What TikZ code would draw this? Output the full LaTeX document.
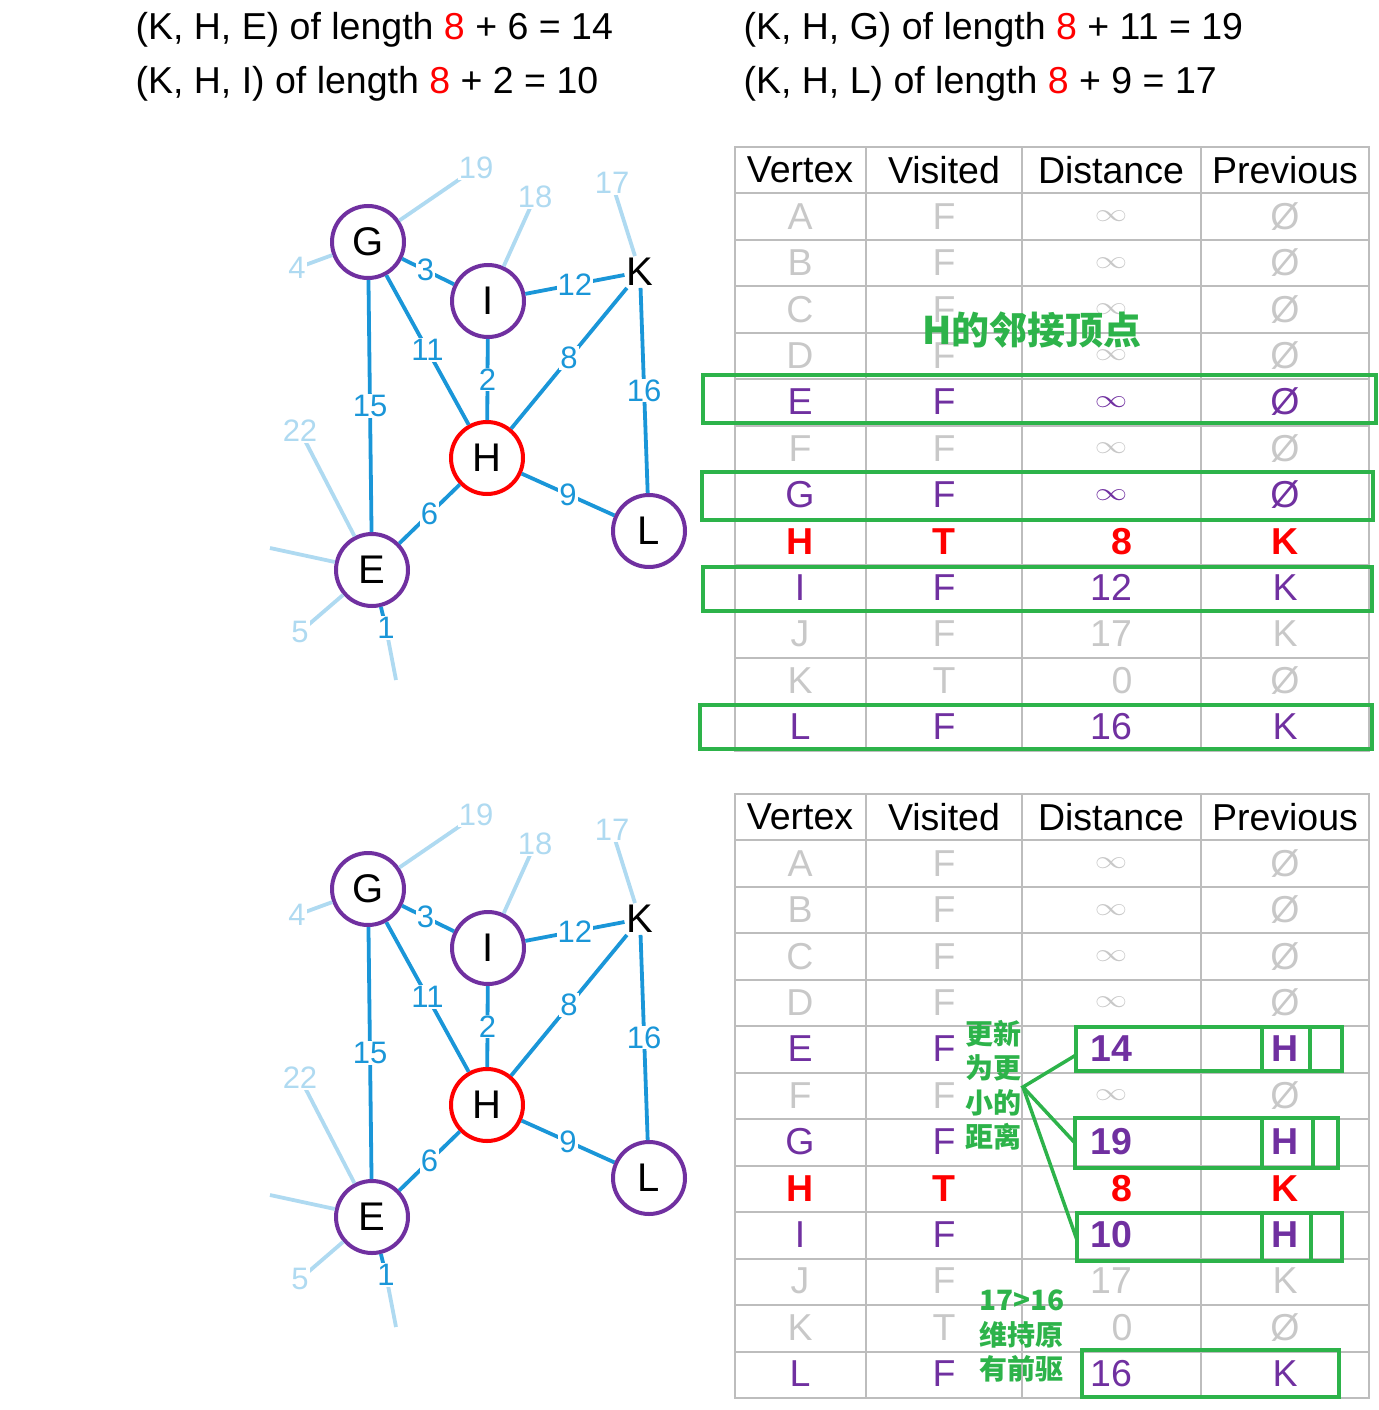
\documentclass[tikz,border=0pt]{standalone}
\usepackage{fontspec}
\setmainfont{Liberation Sans}
\newfontfamily\cjk{Noto Sans CJK SC}
\definecolor{eb}{HTML}{1A96D8}
\definecolor{pu}{HTML}{7030A0}
\definecolor{gr}{HTML}{2DB34A}
\definecolor{lg}{HTML}{C8C8C8}
\definecolor{gl}{HTML}{BDBDBD}
\newcommand{\inft}{\scalebox{1.3}[1]{$\infty$}}
\begin{document}
\begin{tikzpicture}[x=1pt,y=-1pt,
  hd/.style={font=\fontsize{37.5}{38}\selectfont,anchor=west},
  cell/.style={font=\fontsize{37.5}{38}\selectfont},
  gy/.style={cell,text=lg},
  pp/.style={cell,text=pu},
  rd/.style={cell,text=red,font=\fontsize{37.5}{38}\selectfont\bfseries},
  vx/.style={circle,draw=pu,line width=4pt,minimum size=72pt,inner sep=0pt,font=\fontsize{40}{40}\selectfont},
  edge/.style={draw=eb,line width=3.8pt},
  fe/.style={draw=eb!35,line width=3.8pt},
  wl/.style={fill=white,inner sep=1pt,text=eb,font=\fontsize{31}{31}\selectfont},
  fl/.style={inner sep=1pt,text=eb!35,font=\fontsize{31}{31}\selectfont},
  gbox/.style={draw=gr,line width=3.5pt},
  gt/.style={text=gr,font=\fontsize{28}{34.5}\cjk\bfseries,align=left,inner sep=0pt}]
\useasboundingbox (0,0) rectangle (1378,1410);
% headings
\node[hd] (t1) at (132,30) {(K, H, E) of length \textcolor{red}{8} + 6 = 14};
\node[hd] (t2) at (132,84) {(K, H, I) of length \textcolor{red}{8} + 2 = 10};
\node[hd] (t3) at (740,30) {(K, H, G) of length \textcolor{red}{8} + 11 = 19};
\node[hd] (t4) at (740,84) {(K, H, L) of length \textcolor{red}{8} + 9 = 17};
% graphs
\foreach \dy/\s in {0/a,647/b}{
\begin{scope}[yshift=-\dy]
\node[vx] (G\s) at (368,242) {G};
\node[vx] (I\s) at (488,301) {I};
\node[font=\fontsize{40}{40}\selectfont,inner sep=2pt] (K\s) at (640,272) {K};
\node[vx,draw=red] (H\s) at (487,458) {H};
\node[vx] (L\s) at (649,531) {L};
\node[vx] (E\s) at (372,570) {E};
\coordinate (c19\s) at (476,168); \coordinate (c18\s) at (535,197);
\coordinate (c17\s) at (612,183); \coordinate (c4\s) at (297,268);
\coordinate (c22\s) at (300,431); \coordinate (c5\s) at (300,632);
\coordinate (c1\s) at (386,628); \coordinate (cL\s) at (270,548);
\coordinate (cO\s) at (396,680);
\draw[fe] (G\s) -- (c19\s); \draw[fe] (G\s) -- (c4\s);
\draw[fe] (I\s) -- (c18\s); \draw[fe] (K\s) -- (c17\s);
\draw[fe] (E\s) -- (c22\s); \draw[fe] (E\s) -- (c5\s);
\draw[fe] (E\s) -- (cL\s); \draw[fe] (c1\s) -- (cO\s);
\draw[edge] (E\s) -- (c1\s);
\node[fl,fill=white] at (c19\s) {19}; \node[fl,fill=white] at (c18\s) {18};
\node[fl,fill=white] at (c17\s) {17}; \node[fl,fill=white] at (c4\s) {4};
\node[fl,fill=white] at (c22\s) {22}; \node[fl,fill=white] at (c5\s) {5};
\node[wl] at (c1\s) {1};
\draw[edge] (G\s) -- node[wl,pos=0.45]{3} (I\s);
\draw[edge] (I\s) -- node[wl,pos=0.5]{12} (K\s);
\draw[edge] (G\s) -- node[wl,pos=0.5]{11} (H\s);
\draw[edge] (I\s) -- node[wl,pos=0.5]{2} (H\s);
\draw[edge] (K\s) -- node[wl,pos=0.5]{8} (H\s);
\draw[edge] (G\s) -- node[wl,pos=0.5]{15} (E\s);
\draw[edge] (K\s) -- node[wl,pos=0.5]{16} (L\s);
\draw[edge] (H\s) -- node[wl,pos=0.5]{9} (L\s);
\draw[edge] (H\s) -- node[wl,pos=0.5]{6} (E\s);
\end{scope}}
% tables
\foreach \ty/\s in {147/a,794/b}{
\begin{scope}[yshift=-\ty]
\draw[gl,line width=2pt] (735,0) rectangle (1369,604);
\foreach \yy in {46,92.5,139,185.5,232,278.5,325,371.5,418,464.5,511,557.5}
  \draw[gl,line width=2pt] (735,\yy) -- (1369,\yy);
\foreach \xx in {866,1022,1201} \draw[gl,line width=2pt] (\xx,0) -- (\xx,604);
\node[cell] (hv\s) at (800,23) {Vertex};
\node[cell] (hs\s) at (944,23) {Visited};
\node[cell] (hd\s) at (1111,23) {Distance};
\node[cell] (hp\s) at (1285,23) {Previous};
\foreach \i/\v in {1/A,2/B,3/C,4/D,6/F}{
 \node[gy] at (800,23+46.4*\i) {\v}; \node[gy] at (944,23+46.4*\i) {F};
 \node[gy] at (1111,23+46.4*\i) {\inft}; \node[gy] at (1285,23+46.4*\i) {Ø};}
\node[gy] at (800,23+46.4*10) {J}; \node[gy] at (944,23+46.4*10) {F};
\node[gy] at (1111,23+46.4*10) {17}; \node[gy] at (1285,23+46.4*10) {K};
\node[gy] at (800,23+46.4*11) {K}; \node[gy] at (944,23+46.4*11) {T};
\node[gy] at (1122,23+46.4*11) {0}; \node[gy] at (1285,23+46.4*11) {Ø};
\node[rd] at (800,23+46.4*8) {H}; \node[rd] at (944,23+46.4*8) {T};
\node[rd] at (1122,23+46.4*8) {8}; \node[rd] at (1285,23+46.4*8) {K};
\foreach \i/\v in {5/E,7/G,9/I,12/L}{
 \node[pp] at (800,23+46.4*\i) {\v}; \node[pp] at (944,23+46.4*\i) {F};}
\node[pp] at (1111,23+46.4*12) {16}; \node[pp] at (1285,23+46.4*12) {K};
\end{scope}}
% top table values
\foreach \i in {5,7}{
 \node[pp] at (1111,170+46.4*\i) {\inft}; \node[pp] at (1285,170+46.4*\i) {Ø};}
\node[pp] at (1111,170+46.4*9) {12}; \node[pp] at (1285,170+46.4*9) {K};
\draw[gbox] (703,375) rectangle (1376,423);
\draw[gbox] (702,472) rectangle (1373,520);
\draw[gbox] (703,567) rectangle (1372,611);
\draw[gbox] (700,705) rectangle (1372,749);
\node[text=gr,font=\fontsize{38}{38}\cjk\bfseries] (nb) at (1032,330) {H的邻接顶点};
% bottom table values
\foreach \i/\d in {5/14,7/19,9/10}{
 \node[pp,font=\fontsize{37.5}{38}\selectfont\bfseries] at (1111,817+46.4*\i) {\d};
 \node[pp,font=\fontsize{37.5}{38}\selectfont\bfseries] at (1285,817+46.4*\i) {H};}
\draw[gbox] (1076,1027) rectangle (1342,1071); \draw[gbox] (1262,1027) rectangle (1310,1071);
\draw[gbox] (1075,1118) rectangle (1338,1168); \draw[gbox] (1262,1118) rectangle (1313,1168);
\draw[gbox] (1077,1213) rectangle (1342,1261); \draw[gbox] (1262,1213) rectangle (1311,1261);
\draw[gbox] (1082,1350) rectangle (1339,1397);
\node[gt,anchor=north west] (up) at (965,1020) {更新\\为更\\小的\\距离};
\node[gt,anchor=north west] (keep) at (979,1290) {17>16\\维持原\\有前驱};
\coordinate (fan) at (1023,1087);
\coordinate (b14) at (1076,1055); \coordinate (b19) at (1075,1143); \coordinate (b10) at (1077,1240);
\draw[gr,line width=3.5pt] (b14) -- (fan) -- (b19); \draw[gr,line width=3.5pt] (fan) -- (b10);
\end{tikzpicture}
\end{document}
